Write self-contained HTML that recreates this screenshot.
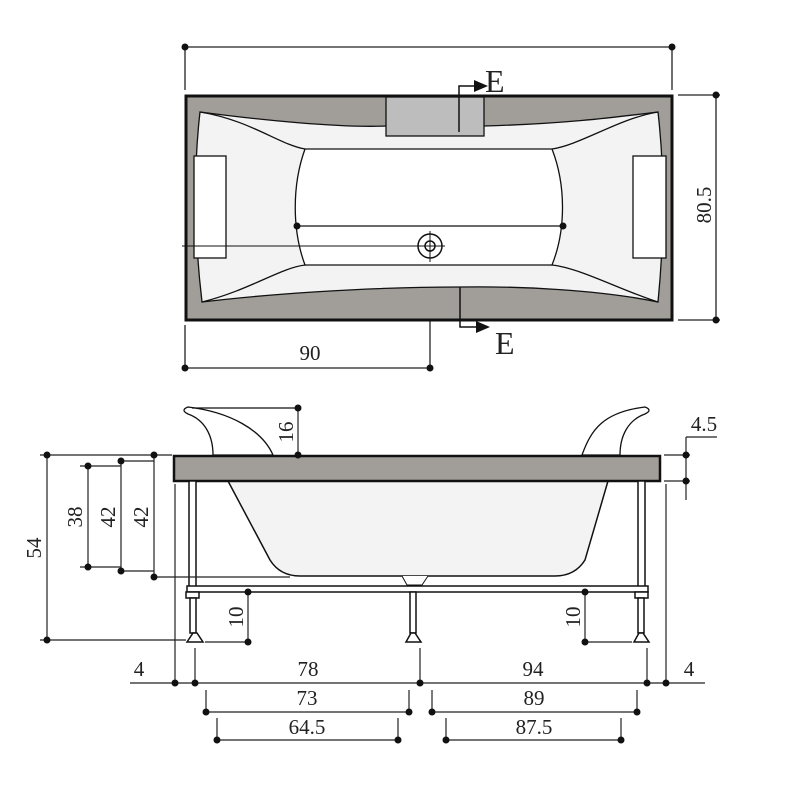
<!DOCTYPE html>
<html><head><meta charset="utf-8"><style>html,body{margin:0;background:#fff}svg{display:block}text{font-family:"Liberation Serif",serif;font-size:21px;fill:#222}</style></head><body>
<svg width="800" height="800" viewBox="0 0 800 800" xmlns="http://www.w3.org/2000/svg">
<g stroke="#222" stroke-width="1.3" fill="none">
<line x1="185" y1="47" x2="672" y2="47"/><line x1="185" y1="47" x2="185" y2="90"/><line x1="672" y1="47" x2="672" y2="90"/>
<line x1="716" y1="95" x2="716" y2="320"/><line x1="678" y1="95" x2="720" y2="95"/><line x1="678" y1="320" x2="720" y2="320"/>
<line x1="185" y1="368" x2="430" y2="368"/><line x1="185" y1="325" x2="185" y2="368"/><line x1="430" y1="262" x2="430" y2="368"/>
</g>
<g fill="#111"><circle cx="185" cy="47" r="3.5"/><circle cx="672" cy="47" r="3.5"/><circle cx="716" cy="95" r="3.5"/><circle cx="716" cy="320" r="3.5"/><circle cx="185" cy="368" r="3.5"/><circle cx="430" cy="368" r="3.5"/></g>
<text x="711" y="205" transform="rotate(-90 711 205)" text-anchor="middle">80.5</text>
<text x="310" y="360" text-anchor="middle">90</text>
<rect x="186" y="96" width="486" height="224" fill="#a19d99" stroke="#111" stroke-width="3"/>
<path d="M200 112 C260 120 340 128 386 126 L484 126 C560 124 610 118 658 112 Q668 200 658 302 C600 290 520 286 460 287 C360 287 260 295 202 302 Q190 200 200 112Z" fill="#f3f3f3" stroke="#111" stroke-width="1.3"/>
<path d="M200 112 C250 120 280 145 305 149 C380 152 480 152 552 149 C580 145 620 118 658 112" fill="none" stroke="#111" stroke-width="1.3"/>
<path d="M202 302 C250 290 280 268 305 265 C380 262 480 262 552 265 C580 268 620 290 658 302" fill="none" stroke="#111" stroke-width="1.3"/>
<path d="M305 149 C292 185 292 230 305 265 L552 265 C566 230 566 185 552 149 Z" fill="#fff" stroke="#111" stroke-width="1.3"/>
<rect x="386" y="97" width="98" height="39" fill="#bdbdbd" stroke="#111" stroke-width="1.3"/>
<rect x="194" y="156" width="32" height="102" fill="#fff" stroke="#111" stroke-width="1.3"/>
<rect x="633" y="156" width="33" height="102" fill="#fff" stroke="#111" stroke-width="1.3"/>
<line x1="297" y1="226" x2="563" y2="226" stroke="#111" stroke-width="1.3"/>
<circle cx="297" cy="226" r="3.5" fill="#111"/><circle cx="563" cy="226" r="3.5" fill="#111"/>
<line x1="182" y1="246" x2="415" y2="246" stroke="#111" stroke-width="1"/>
<circle cx="430" cy="246" r="12" fill="none" stroke="#111" stroke-width="1.5"/><circle cx="430" cy="246" r="5" fill="none" stroke="#111" stroke-width="1.5"/>
<line x1="415" y1="246" x2="445" y2="246" stroke="#111"/><line x1="430" y1="231" x2="430" y2="262" stroke="#111"/>
<g stroke="#111" stroke-width="1.5" fill="none"><polyline points="459,132 459,86 476,86"/><polyline points="460,287 460,327 478,327"/></g>
<polygon points="474,80 488,86 474,92" fill="#111"/><polygon points="476,321 490,327 476,333" fill="#111"/>
<text x="485" y="92" style="font-size:32px">E</text><text x="495" y="354" style="font-size:32px">E</text>
<!-- side view headrests -->
<path d="M213 455 C213 436 205 420 188 414 Q180 410 188 407 C230 412 262 430 273 455Z" fill="#fff" stroke="#111" stroke-width="1.3"/>
<path d="M620 455 C620 436 628 420 645 414 Q653 410 645 407 C603 412 591 430 582 455Z" fill="#fff" stroke="#111" stroke-width="1.3"/>
<line x1="192" y1="408" x2="298" y2="408" stroke="#111" stroke-width="1.2"/>
<path d="M228 481 L270 560 Q280 576 300 576 L555 576 Q575 576 585 560 L608 481Z" fill="#f3f3f3" stroke="#111" stroke-width="1.5"/>
<path d="M402 576 L407 585 L422 585 L428 576" fill="#fff" stroke="#111"/>
<rect x="174" y="456" width="486" height="25" fill="#a19d99" stroke="#111" stroke-width="2.5"/>
<g fill="#fff" stroke="#111" stroke-width="1.5">
<rect x="189" y="481" width="7" height="112"/><rect x="638" y="481" width="7" height="112"/>
<rect x="187" y="586" width="461" height="6"/>
<rect x="186" y="592" width="13" height="6"/><rect x="635" y="592" width="13" height="6"/>
<rect x="190" y="598" width="6" height="35"/><rect x="638" y="598" width="6" height="35"/><rect x="410" y="592" width="6" height="41"/>
<path d="M187 642 L193 633 L197 633 L203 642Z"/><path d="M406 642 L411 633 L415 633 L421 642Z"/><path d="M634 642 L639 633 L643 633 L649 642Z"/>
</g>
<g stroke="#222" stroke-width="1.2" fill="none">
<line x1="298" y1="408" x2="298" y2="455"/>
<line x1="47" y1="455" x2="47" y2="640"/><line x1="40" y1="455" x2="172" y2="455"/><line x1="40" y1="640" x2="186" y2="640"/>
<line x1="88" y1="466" x2="88" y2="567"/><line x1="80" y1="466" x2="121" y2="466"/><line x1="80" y1="567" x2="121" y2="567"/>
<line x1="121" y1="461" x2="121" y2="571"/><line x1="121" y1="461" x2="154" y2="461"/><line x1="121" y1="571" x2="154" y2="571"/>
<line x1="154" y1="455" x2="154" y2="577"/><line x1="154" y1="577" x2="290" y2="577"/>
<line x1="686" y1="437" x2="686" y2="500"/><line x1="664" y1="455" x2="690" y2="455"/><line x1="664" y1="481" x2="690" y2="481"/><line x1="686" y1="437" x2="717" y2="437"/>
<line x1="248" y1="592" x2="248" y2="642"/><line x1="205" y1="642" x2="248" y2="642"/>
<line x1="585" y1="592" x2="585" y2="642"/><line x1="585" y1="642" x2="632" y2="642"/>
<line x1="130" y1="683" x2="705" y2="683"/>
<line x1="175" y1="484" x2="175" y2="683"/><line x1="195" y1="648" x2="195" y2="683"/><line x1="420" y1="648" x2="420" y2="683"/><line x1="647" y1="648" x2="647" y2="683"/><line x1="666" y1="484" x2="666" y2="683"/>
<line x1="206" y1="690" x2="206" y2="712"/><line x1="409" y1="690" x2="409" y2="712"/><line x1="206" y1="712" x2="409" y2="712"/>
<line x1="432" y1="690" x2="432" y2="712"/><line x1="637" y1="690" x2="637" y2="712"/><line x1="432" y1="712" x2="637" y2="712"/>
<line x1="217" y1="718" x2="217" y2="740"/><line x1="398" y1="718" x2="398" y2="740"/><line x1="217" y1="740" x2="398" y2="740"/>
<line x1="446" y1="718" x2="446" y2="740"/><line x1="621" y1="718" x2="621" y2="740"/><line x1="446" y1="740" x2="621" y2="740"/>
</g>
<g fill="#111">
<circle cx="298" cy="408" r="3.5"/><circle cx="298" cy="455" r="3.5"/>
<circle cx="47" cy="455" r="3.5"/><circle cx="47" cy="640" r="3.5"/>
<circle cx="88" cy="466" r="3.5"/><circle cx="88" cy="567" r="3.5"/>
<circle cx="121" cy="461" r="3.5"/><circle cx="121" cy="571" r="3.5"/>
<circle cx="154" cy="455" r="3.5"/><circle cx="154" cy="577" r="3.5"/>
<circle cx="686" cy="455" r="3.5"/><circle cx="686" cy="481" r="3.5"/>
<circle cx="248" cy="592" r="3.5"/><circle cx="248" cy="642" r="3.5"/>
<circle cx="585" cy="592" r="3.5"/><circle cx="585" cy="642" r="3.5"/>
<circle cx="175" cy="683" r="3.5"/><circle cx="195" cy="683" r="3.5"/><circle cx="420" cy="683" r="3.5"/><circle cx="647" cy="683" r="3.5"/><circle cx="666" cy="683" r="3.5"/>
<circle cx="206" cy="712" r="3.5"/><circle cx="409" cy="712" r="3.5"/><circle cx="432" cy="712" r="3.5"/><circle cx="637" cy="712" r="3.5"/>
<circle cx="217" cy="740" r="3.5"/><circle cx="398" cy="740" r="3.5"/><circle cx="446" cy="740" r="3.5"/><circle cx="621" cy="740" r="3.5"/>
</g>
<text x="293" y="432" transform="rotate(-90 293 432)" text-anchor="middle">16</text>
<text x="41" y="548" transform="rotate(-90 41 548)" text-anchor="middle">54</text>
<text x="82" y="517" transform="rotate(-90 82 517)" text-anchor="middle">38</text>
<text x="115" y="517" transform="rotate(-90 115 517)" text-anchor="middle">42</text>
<text x="148" y="517" transform="rotate(-90 148 517)" text-anchor="middle">42</text>
<text x="243" y="617" transform="rotate(-90 243 617)" text-anchor="middle">10</text>
<text x="580" y="617" transform="rotate(-90 580 617)" text-anchor="middle">10</text>
<text x="704" y="431" text-anchor="middle">4.5</text>
<text x="139" y="676" text-anchor="middle">4</text>
<text x="308" y="676" text-anchor="middle">78</text>
<text x="533" y="676" text-anchor="middle">94</text>
<text x="689" y="676" text-anchor="middle">4</text>
<text x="307" y="705" text-anchor="middle">73</text>
<text x="534" y="705" text-anchor="middle">89</text>
<text x="307" y="734" text-anchor="middle">64.5</text>
<text x="534" y="734" text-anchor="middle">87.5</text>
</svg>
</body></html>
